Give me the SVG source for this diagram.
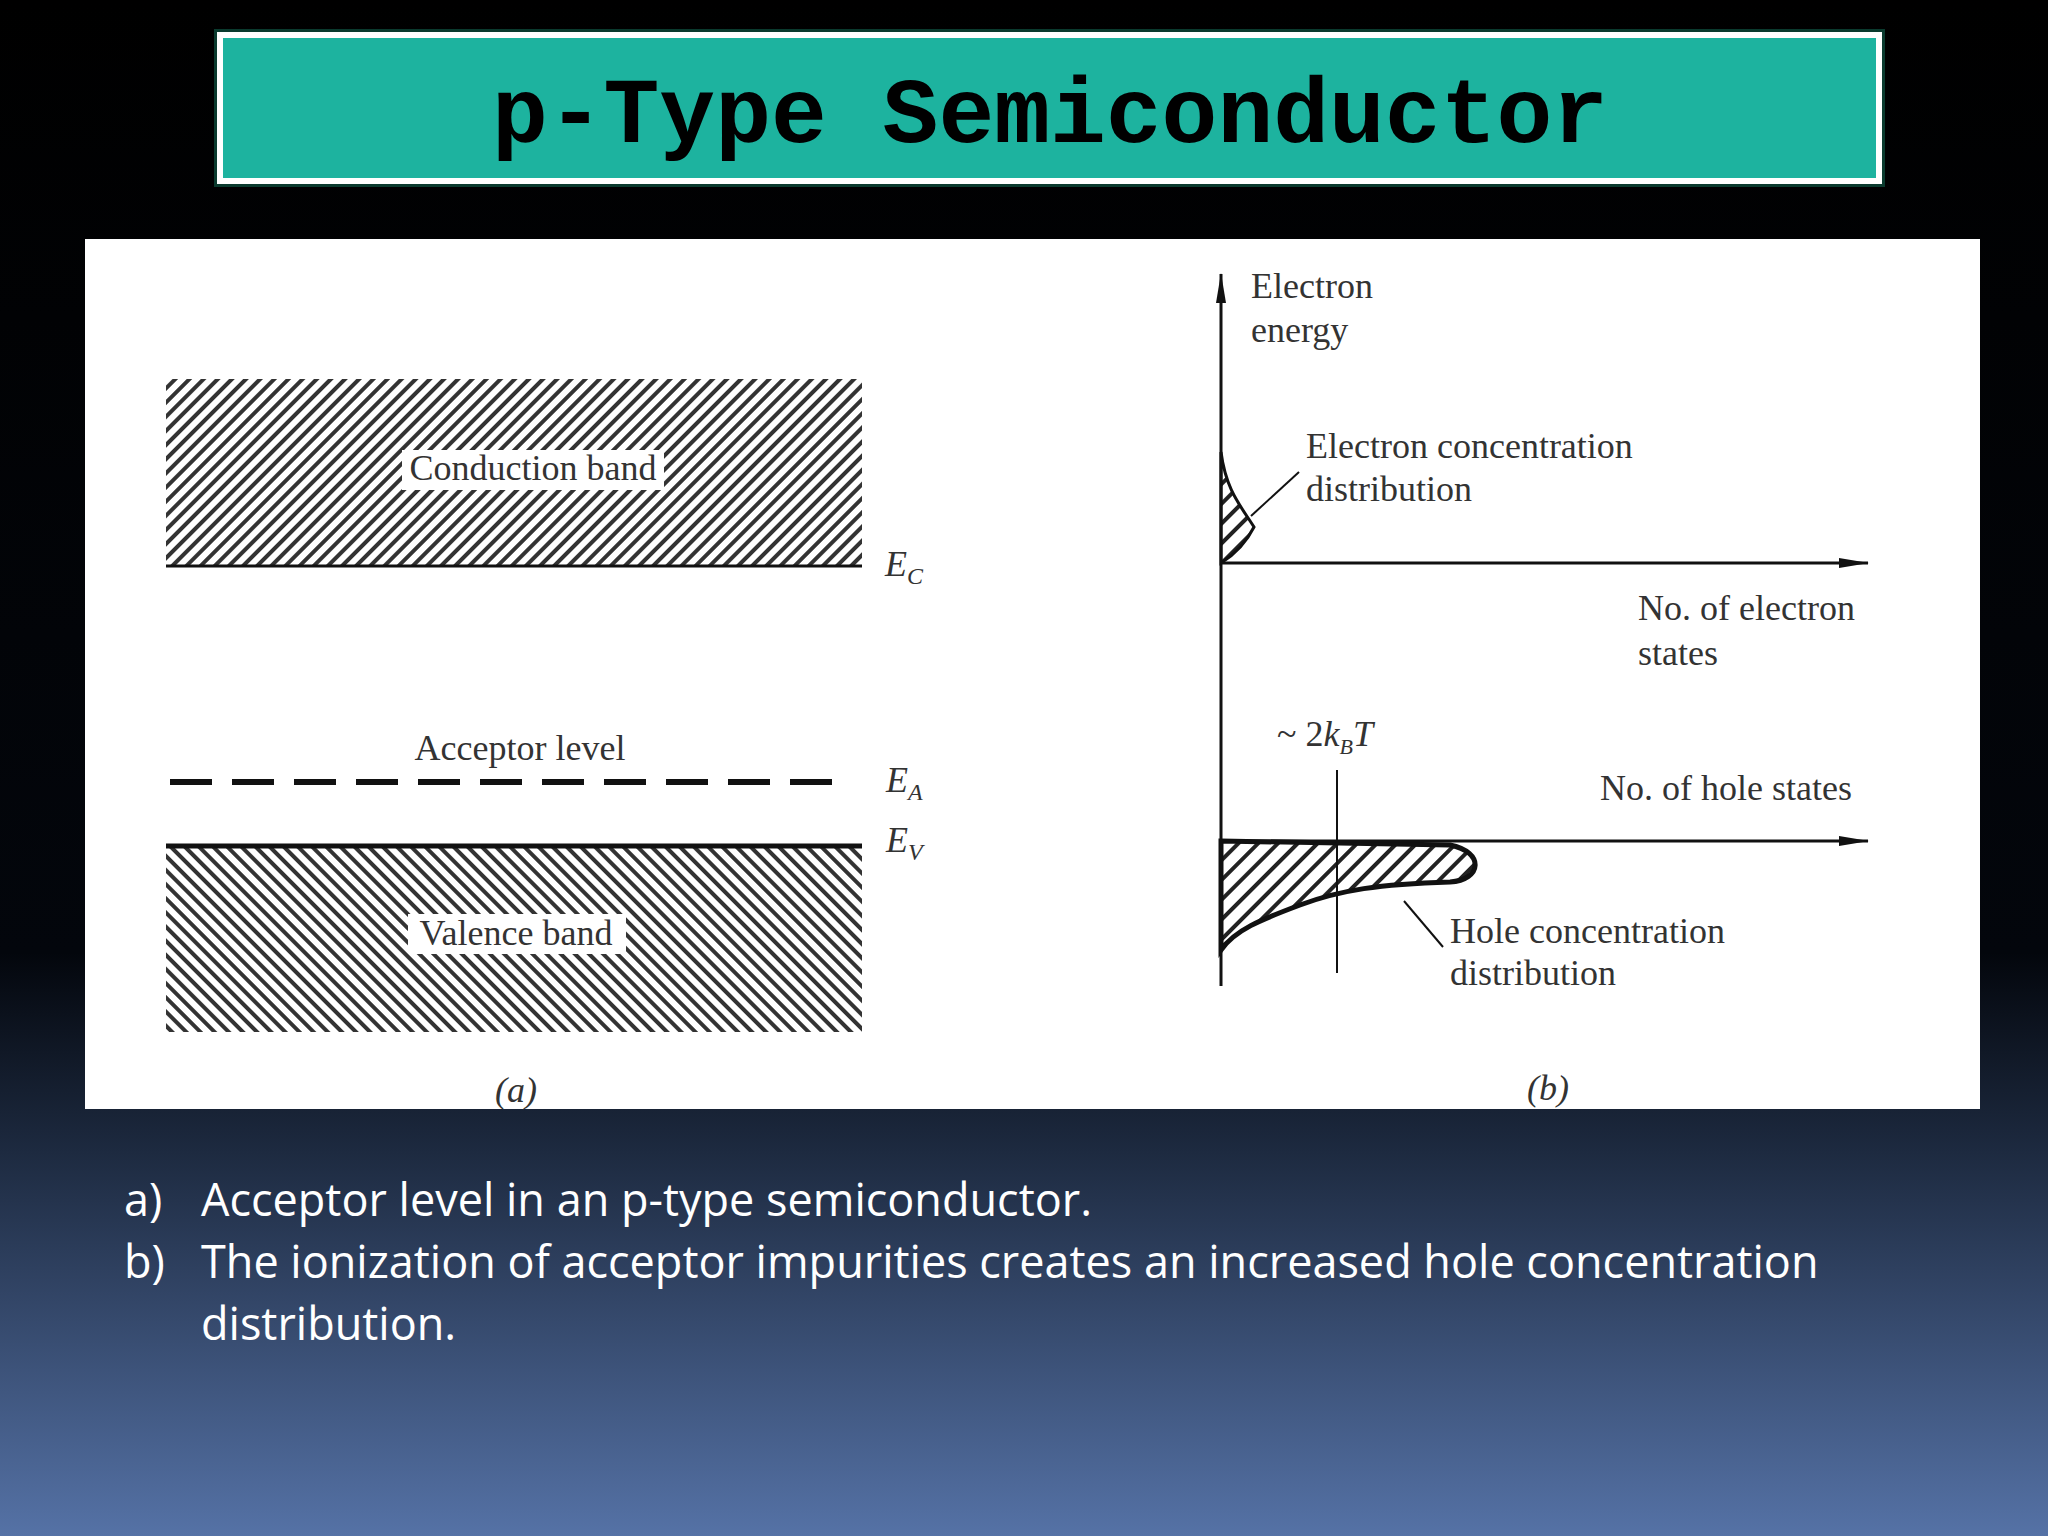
<svg xmlns="http://www.w3.org/2000/svg" width="2048" height="1536" viewBox="0 0 2048 1536">
<defs>
<linearGradient id="bg" x1="0" y1="0" x2="0" y2="1">
<stop offset="0" stop-color="#000"/><stop offset="0.62" stop-color="#03060c"/><stop offset="0.75" stop-color="#1d2a40"/><stop offset="1" stop-color="#5572a6"/>
</linearGradient>
<pattern id="hf" width="10" height="10" patternUnits="userSpaceOnUse" patternTransform="rotate(45)"><rect width="10" height="10" fill="#fff"/><rect width="4" height="10" fill="#333"/></pattern>
<pattern id="hb" width="10" height="10" patternUnits="userSpaceOnUse" patternTransform="rotate(-45)"><rect width="10" height="10" fill="#fff"/><rect width="4" height="10" fill="#333"/></pattern>
<pattern id="hs" width="14" height="14" patternUnits="userSpaceOnUse" patternTransform="rotate(45)"><rect width="14" height="14" fill="#fff"/><rect width="4" height="14" fill="#222"/></pattern>
<marker id="big" viewBox="0 0 30 12" refX="29" refY="6" markerWidth="30" markerHeight="12" markerUnits="userSpaceOnUse" orient="auto"><path d="M0,1 L30,6 L0,11 Z" fill="#111"/></marker>
<style>
.f{font-family:"Liberation Serif",serif;fill:#333;font-size:36px}
.i{font-style:italic}
.b{font-family:"Open Sans","Liberation Sans",sans-serif;fill:#fff;font-size:45px}
.ln{stroke:#111;stroke-width:3;fill:none}
</style>
</defs>
<rect width="2048" height="1536" fill="url(#bg)"/>
<g id="title">
<rect x="214" y="29" width="1671" height="158" fill="#0a3a2e"/>
<rect x="220" y="35" width="1659" height="146" fill="#1db39f" stroke="#fff" stroke-width="6"/>
<text x="1050" y="142" text-anchor="middle" font-family="Liberation Mono,monospace" font-weight="bold" font-size="93" fill="#000">p-Type Semiconductor</text>
</g>
<rect x="85" y="239" width="1895" height="870" fill="#fff"/>
<g id="panel-a">
<rect x="166" y="379" width="696" height="187" fill="url(#hf)"/>
<line class="ln" x1="166" y1="566" x2="862" y2="566"/>
<rect x="402" y="450" width="262" height="40" fill="#fff"/>
<text class="f" x="533" y="480" text-anchor="middle">Conduction band</text>
<text class="f i" x="885" y="576">E<tspan font-size="24" dy="8">C</tspan></text>
<text class="f" x="520" y="760" text-anchor="middle">Acceptor level</text>
<line x1="170" y1="782" x2="842" y2="782" stroke="#111" stroke-width="6" stroke-dasharray="42,20"/>
<text class="f i" x="886" y="792">E<tspan font-size="24" dy="8">A</tspan></text>
<rect x="166" y="846" width="696" height="186" fill="url(#hb)"/>
<line x1="166" y1="846" x2="862" y2="846" stroke="#111" stroke-width="5"/>
<rect x="408" y="914" width="218" height="40" fill="#fff"/>
<text class="f" x="516" y="945" text-anchor="middle">Valence band</text>
<text class="f i" x="886" y="852">E<tspan font-size="24" dy="8">V</tspan></text>
<text class="f i" x="516" y="1102" text-anchor="middle">(a)</text>
</g>
<g id="panel-b">
<path d="M1221,452 C1226,490 1240,505 1254,527 C1245,545 1232,556 1221,563 Z" fill="url(#hs)" stroke="#111" stroke-width="3"/>
<path d="M1221,841 L1450,845 C1485,852 1482,880 1450,882 C1380,884 1340,890 1300,905 C1260,920 1235,930 1221,950 Z" fill="url(#hs)" stroke="#111" stroke-width="5"/>
<text class="f" x="1251" y="298">Electron</text>
<text class="f" x="1251" y="342">energy</text>
<text class="f" x="1306" y="458">Electron concentration</text>
<text class="f" x="1306" y="501">distribution</text>
<text class="f" x="1638" y="620">No. of electron</text>
<text class="f" x="1638" y="665">states</text>
<text class="f" x="1277" y="746">~ 2<tspan class="i">k</tspan><tspan class="i" font-size="22" dy="8">B</tspan><tspan class="i" dy="-8">T</tspan></text>
<text class="f" x="1600" y="800">No. of hole states</text>
<text class="f" x="1450" y="943">Hole concentration</text>
<text class="f" x="1450" y="985">distribution</text>
<text class="f i" x="1548" y="1100" text-anchor="middle">(b)</text>
</g>
<g id="connectors">
<line class="ln" x1="1221" y1="986" x2="1221" y2="274" marker-end="url(#big)"/>
<line class="ln" x1="1221" y1="563" x2="1868" y2="563" marker-end="url(#big)"/>
<line class="ln" x1="1221" y1="841" x2="1868" y2="841" marker-end="url(#big)"/>
<line x1="1337" y1="770" x2="1337" y2="973" stroke="#111" stroke-width="2"/>
<line x1="1251" y1="516" x2="1299" y2="472" stroke="#111" stroke-width="2"/>
<line x1="1404" y1="901" x2="1443" y2="947" stroke="#111" stroke-width="2"/>
</g>
<g id="caption">
<text class="b" x="124" y="1216">a)</text>
<text class="b" x="201" y="1216">Acceptor level in an p-type semiconductor.</text>
<text class="b" x="124" y="1278">b)</text>
<text class="b" x="201" y="1278">The ionization of acceptor impurities creates an increased hole concentration</text>
<text class="b" x="201" y="1340">distribution.</text>
</g>
</svg>
